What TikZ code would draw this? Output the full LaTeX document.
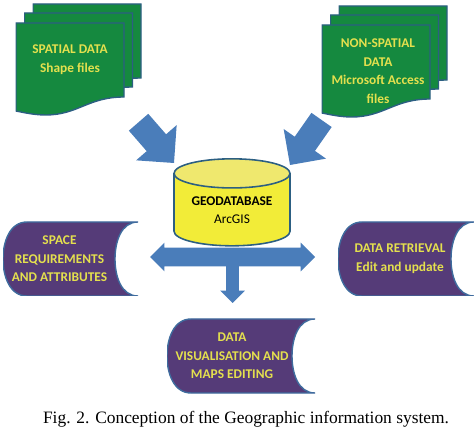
\documentclass[tikz,border=0pt]{standalone}
\usepackage{fontspec}
\setmainfont{Liberation Serif}
\newfontfamily\labelfont{Carlito}
\usepackage{tikz}
\usetikzlibrary{shapes, arrows.meta, positioning, calc}
\definecolor{pagegreen}{HTML}{15893F}
\definecolor{pageedge}{HTML}{2C5F82}
\definecolor{boxpurple}{HTML}{553B78}
\definecolor{boxedge}{HTML}{3F6C9E}
\definecolor{labelyellow}{HTML}{E4E04E}
\definecolor{dbyellow}{HTML}{F2EC38}
\definecolor{dbtop}{HTML}{EFE86E}
\definecolor{arrowblue}{HTML}{4A7DBA}

\begin{document}
\begin{tikzpicture}[
    docpage/.style={rectangle, minimum width=2.18cm, minimum height=1.86cm, inner sep=0pt,
        path picture={\draw[fill=pagegreen, draw=pageedge, line width=0.8pt]
            (-1.08,-0.84) -- (-1.08,0.92) -- (1.08,0.92) -- (1.08,-0.56)
            .. controls (0.36,-0.56) and (0.16,-0.92) .. (-0.49,-0.92)
            .. controls (-0.69,-0.92) and (-0.89,-0.88) .. (-1.08,-0.84) -- cycle;}},
    storedbox/.style={rectangle, minimum width=#1, minimum height=1.48cm, inner sep=0pt,
        path picture={\draw[fill=boxpurple, draw=boxedge, line width=0.8pt]
            (path picture bounding box.north east)
            to[out=180, in=90] ([xshift=-0.46cm]path picture bounding box.east)
            to[out=-90, in=180] (path picture bounding box.south east)
            -- ([xshift=0.48cm]path picture bounding box.south west)
            to[out=180, in=-90] (path picture bounding box.west)
            to[out=90, in=180] ([xshift=0.48cm]path picture bounding box.north west)
            -- cycle;}},
    db/.style={cylinder, draw=pageedge, line width=0.9pt, shape border rotate=90, aspect=0.36,
        cylinder uses custom fill, cylinder body fill=dbyellow, cylinder end fill=dbtop,
        minimum height=1.74cm, minimum width=2.32cm, inner sep=0pt,
        align=center, font=\labelfont\fontsize{7.6}{10.6}\selectfont},
    blockarrow/.style={single arrow, fill=arrowblue, anchor=tip, outer sep=0pt},
    boxtext/.style={align=center, text=labelyellow, inner sep=0pt,
        font=\labelfont\bfseries\fontsize{7.6}{10.6}\selectfont}
]
\useasboundingbox (0,0) rectangle (9.48,8.58);

% Data sources
\node[docpage] (spatialback) at (1.74,7.58) {};
\node[docpage, xshift=-0.17cm, yshift=-0.18cm] (spatialmiddle) at (spatialback) {};
\node[docpage, xshift=-0.17cm, yshift=-0.2cm] (spatialfront) at (spatialmiddle) {};
\node[boxtext, yshift=0.19cm] (spatialtext) at (spatialfront) {SPATIAL DATA\\Shape files};

\node[docpage] (accessback) at (7.86,7.54) {};
\node[docpage, xshift=-0.17cm, yshift=-0.18cm] (accessmiddle) at (accessback) {};
\node[docpage, xshift=-0.17cm, yshift=-0.2cm] (accessfront) at (accessmiddle) {};
\node[boxtext, xshift=0.04cm] (accesstext) at (accessfront) {NON-SPATIAL\\DATA\\Microsoft Access\\files};

% Database
\node[db] (geodb) at (4.64,4.38) {\textbf{GEODATABASE}\\ArcGIS};

% Results
\node[storedbox=2.7cm] (space) at (1.41,3.40) {};
\node[boxtext, xshift=-0.22cm] (spacetext) at (space) {SPACE\\REQUIREMENTS\\AND ATTRIBUTES};
\node[storedbox=2.72cm] (retrieval) at (8.12,3.40) {};
\node[boxtext, xshift=-0.12cm] (retrievaltext) at (retrieval) {DATA RETRIEVAL\\Edit and update};
\node[storedbox=2.96cm] (visual) at (4.82,1.46) {};
\node[boxtext, xshift=-0.18cm] (visualtext) at (visual) {DATA\\VISUALISATION AND\\MAPS EDITING};

% Arrows
\node[blockarrow, rotate=-49, minimum height=1.08cm, inner sep=0.25cm,
    single arrow head extend=0.28cm] (spatialarrow) at (3.48,5.32) {};
\node[blockarrow, rotate=235, minimum height=1.1cm, inner sep=0.24cm,
    single arrow head extend=0.27cm] (accessarrow) at (5.80,5.28) {};
\node[blockarrow, rotate=180, minimum height=1.66cm, inner sep=0.18cm,
    single arrow head extend=0.1cm] (spacearrow) at (3.0,3.44) {};
\node[blockarrow, rotate=0, minimum height=1.64cm, inner sep=0.18cm,
    single arrow head extend=0.1cm] (retrievalarrow) at (6.3,3.44) {};
\node[blockarrow, rotate=-90, minimum height=0.92cm, inner sep=0.12cm,
    single arrow head extend=0.12cm] (visualarrow) at (4.65,2.52) {};

% Caption
\node[font=\fontsize{9.9}{12}\selectfont, inner sep=0pt] (caption) at (4.92,0.2)
    {Fig. 2. Conception of the Geographic information system.};

\end{tikzpicture}
\end{document}
